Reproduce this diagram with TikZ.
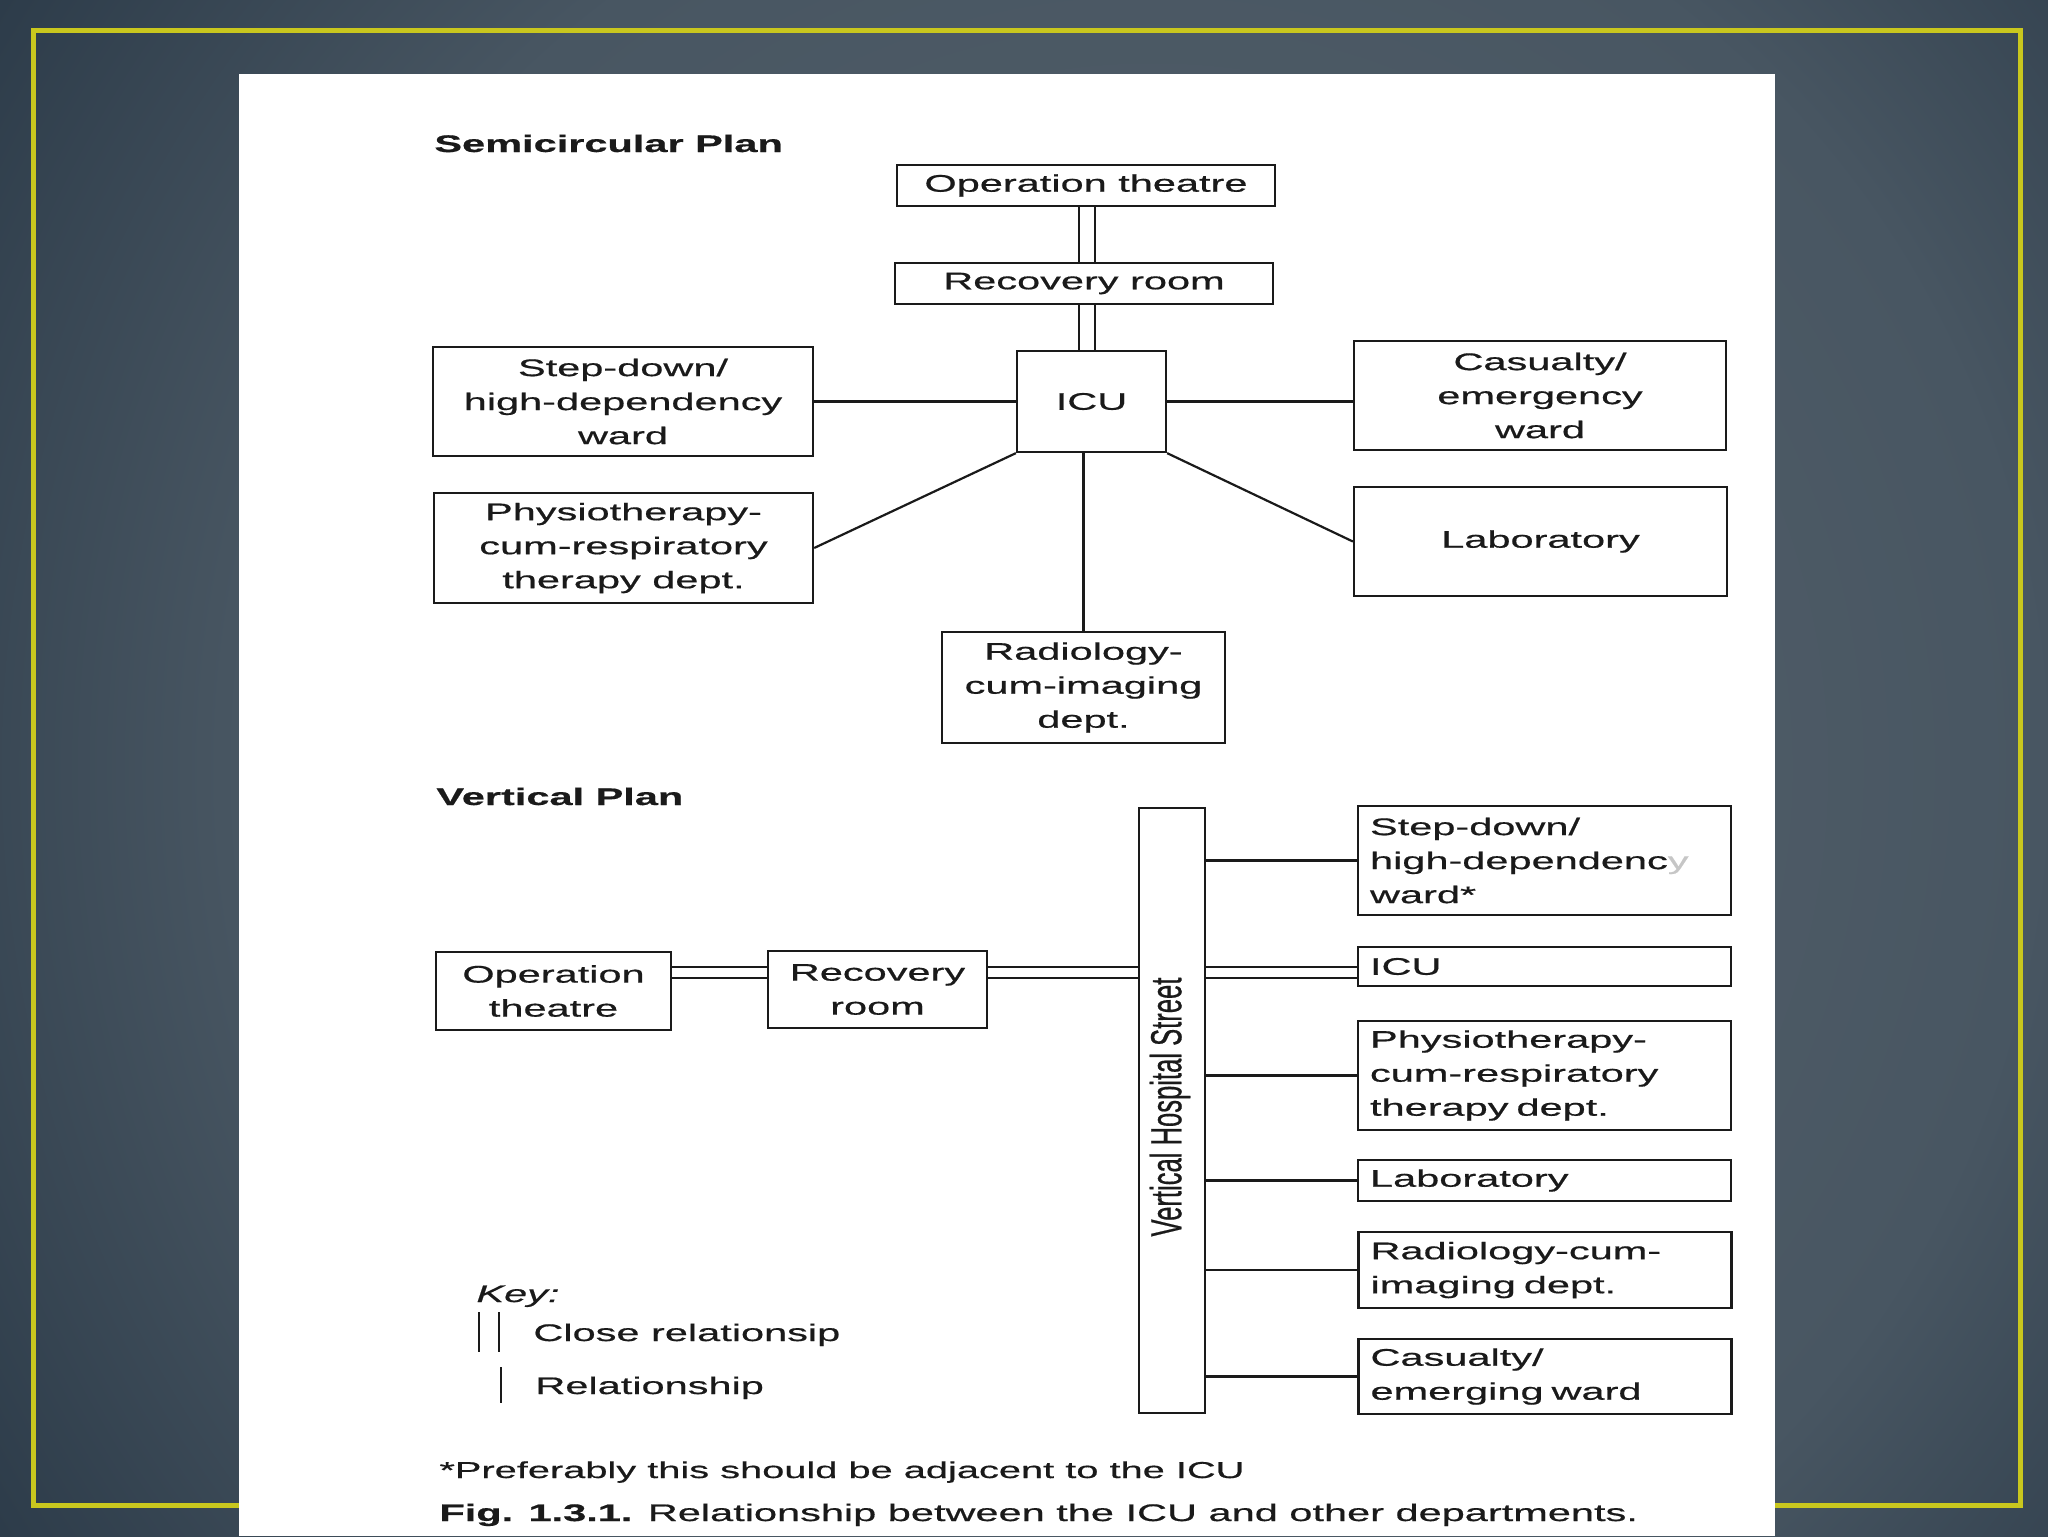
\documentclass[tikz,border=0pt]{standalone}
\usepackage{fontspec}
\setmainfont{Liberation Sans}[FakeStretch=1.73,FakeBold=0.6]
\newfontfamily\streetfont{Liberation Sans}[FakeBold=0.6]
\usetikzlibrary{calc}
\definecolor{bgin}{HTML}{56626C}
\definecolor{bgmid}{HTML}{485662}
\definecolor{bgdark}{HTML}{2C3B49}
\definecolor{bgout}{HTML}{172736}
\definecolor{frameyellow}{HTML}{C9C71E}
\definecolor{ink}{HTML}{1A1A1A}
\pgfdeclareradialshading{slidebg}{\pgfpoint{4bp}{0bp}}{color(0bp)=(bgin); color(22bp)=(bgmid); color(33bp)=(bgdark); color(44bp)=(bgout); color(75bp)=(bgout)}
\begin{document}
\begin{tikzpicture}[x=0.5pt,y=-0.5pt,
  box/.style={draw=ink, line width=1.15pt, inner sep=0pt, align=center, text=ink, font=\fontsize{12}{17}\selectfont},
  lbox/.style={box, inner xsep=6pt, align=left, text width=174.5pt},
  conn/.style={draw=ink, line width=1.1pt},
  lbl/.style={anchor=base west, text=ink, inner sep=0pt, font=\fontsize{12}{14}\selectfont}]
\useasboundingbox (0,0) rectangle (2048,1536);
\begin{scope}
\clip (0,0) rectangle (2048,1536);
\shade[shading=slidebg] (0,-300) rectangle (2048,1836);
\end{scope}
\draw[frameyellow, line width=2.5pt] (33,31) rectangle (2020,1505);
\fill[white] (239,74) rectangle (1775,1536);

% ---------- Semicircular plan ----------
\node[lbl, font=\bfseries\fontsize{12}{14}\selectfont] (stitle) at (434,152) {Semicircular Plan};
\node[box, minimum width=189pt, minimum height=20.5pt] (ot) at (1086,185.5) {Operation theatre};
\node[box, minimum width=189pt, minimum height=20.5pt] (rr) at (1084,283.5) {Recovery room};
\node[box, minimum width=74.5pt, minimum height=50.5pt] (icu) at (1091.5,401.5) {ICU};
\node[box, minimum width=190pt, minimum height=54.5pt] (sd) at (623,401.5) {Step-down/\\high-dependency\\ward};
\node[box, minimum width=186pt, minimum height=54.5pt] (cas) at (1540,395.5) {Casualty/\\emergency\\ward};
\node[box, minimum width=189.5pt, minimum height=55pt] (phy) at (623.5,548) {Physiotherapy-\\cum-respiratory\\therapy dept.};
\node[box, minimum width=186.5pt, minimum height=54.5pt] (lab) at (1540.5,541.5) {Laboratory};
\node[box, minimum width=141.5pt, minimum height=55.5pt] (rad) at (1083.5,687.5) {Radiology-\\cum-imaging\\dept.};

\coordinate (dl) at (1079,0);
\coordinate (dr) at (1095,0);
\draw[conn] (ot.south -| dl) -- (rr.north -| dl);
\draw[conn] (ot.south -| dr) -- (rr.north -| dr);
\draw[conn] (rr.south -| dl) -- (icu.north -| dl);
\draw[conn] (rr.south -| dr) -- (icu.north -| dr);
\draw[conn] (sd.east) -- (icu.west);
\draw[conn] (icu.east) -- (icu.east -| cas.west);
\draw[conn] (icu.south west) -- (phy.east);
\draw[conn] (icu.south east) -- (lab.west);
\draw[conn] (icu.south -| rad.north) -- (rad.north);

% ---------- Vertical plan ----------
\node[lbl, font=\bfseries\fontsize{12}{14}\selectfont] (vtitle) at (436,805) {Vertical Plan};
\node[box, minimum width=117.5pt, minimum height=39pt] (vot) at (553.5,991) {Operation\\theatre};
\node[box, minimum width=109.5pt, minimum height=38.5pt] (vrr) at (877.5,989.5) {Recovery\\room};
\node[box, minimum width=33pt, minimum height=302.5pt] (street) at (1172,1110.5) {};
\node[rotate=90, text=ink, inner sep=0pt, font=\streetfont\fontsize{12.8}{14}\selectfont] (streetlbl) at (1170,1107) {\scalebox{1}[1.7]{Vertical Hospital Street}};

\node[lbox, minimum height=54.5pt] (vsd) at (1544.5,860.5) {Step-down/\\high-dependenc\textcolor{gray!45}{y}\\ward*};
\node[lbox, minimum height=19.5pt] (vicu) at (1544.5,966.5) {ICU};
\node[lbox, minimum height=54.5pt] (vphy) at (1544.5,1075.5) {Physiotherapy-\\cum-respiratory\\therapy dept.};
\node[lbox, minimum height=20.5pt] (vlab) at (1544.5,1180.5) {Laboratory};
\node[lbox, minimum height=38pt] (vrad) at (1545,1270) {Radiology-cum-\\imaging dept.};
\node[lbox, minimum height=37.5pt] (vcas) at (1545,1376.5) {Casualty/\\emerging ward};

\coordinate (hu) at (0,967);
\coordinate (hl) at (0,978);
\draw[conn] (vot.east |- hu) -- (vrr.west |- hu);
\draw[conn] (vot.east |- hl) -- (vrr.west |- hl);
\draw[conn] (vrr.east |- hu) -- (street.west |- hu);
\draw[conn] (vrr.east |- hl) -- (street.west |- hl);
\draw[conn] (street.east |- hu) -- (vicu.west |- hu);
\draw[conn] (street.east |- hl) -- (vicu.west |- hl);
\draw[conn] (street.east |- vsd.west) -- (vsd.west);
\draw[conn] (street.east |- vphy.west) -- (vphy.west);
\draw[conn] (street.east |- vlab.west) -- (vlab.west);
\draw[conn] (street.east |- vrad.west) -- (vrad.west);
\draw[conn] (street.east |- vcas.west) -- (vcas.west);

% ---------- Key and captions ----------
\node[lbl, font=\itshape\fontsize{12}{14}\selectfont] (key) at (476,1302) {Key:};
\draw[conn] (479,1312) -- (479,1352);
\draw[conn] (499,1312) -- (499,1352);
\draw[conn] (501,1367) -- (501,1403);
\node[lbl] (kclose) at (533,1341) {Close relationsip};
\node[lbl] (krel) at (535,1394) {Relationship};
\node[lbl, font=\fontsize{11.5}{14}\selectfont] (foot) at (439,1478) {*Preferably this should be adjacent to the ICU};
\node[lbl] (caption) at (439,1521) {\textbf{Fig. 1.3.1.} Relationship between the ICU and other departments.};
\end{tikzpicture}
\end{document}
